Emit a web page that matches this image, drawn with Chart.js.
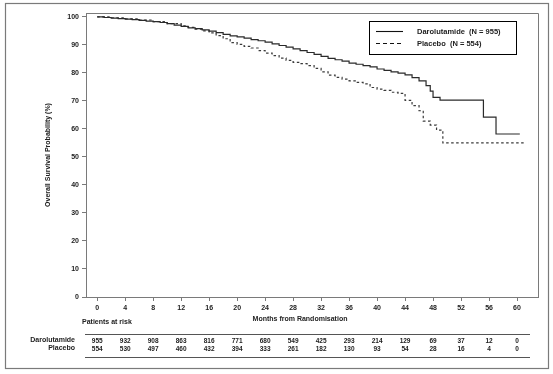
<!DOCTYPE html>
<html>
<head>
<meta charset="utf-8">
<script src="https://cdn.jsdelivr.net/npm/chart.js@4/dist/chart.umd.min.js"></script>
<style>
html,body{margin:0;padding:0;background:#fff;}
#wrap{position:relative;width:553px;height:374px;}
</style>
</head>
<body>
<div id="wrap"><canvas id="c" width="553" height="374"></canvas></div>
<script>
// ---- data ----
const xTicks = [0,4,8,12,16,20,24,28,32,36,40,44,48,52,56,60];
const yTicks = [0,10,20,30,40,50,60,70,80,90,100];
const seriesNames = ['Darolutamide  (N = 955)', 'Placebo  (N = 554)'];
const riskLabels = ['Darolutamide', 'Placebo'];
const daroRisk = [955,932,908,863,816,771,680,549,425,293,214,129,69,37,12,0];
const placRisk = [554,530,497,460,432,394,333,261,182,130,93,54,28,16,4,0];

const daroTime = [0,1,2,3,4,5,6,7,8,9,10,11,12,13,14,15,16,17,18,19,20,21,22,23,24,25,26,27,28,29,30,31,32,33,34,35,36,37,38,39,40,41,42,43,44,45,46,47,47.6,48,49,55.2,57,60.4];
const daroSurv = [100,99.8,99.6,99.4,99.2,99.0,98.8,98.5,98.3,98.0,97.6,97.1,96.6,96.1,95.8,95.4,94.9,94.4,93.8,93.2,92.9,92.4,91.9,91.5,91.0,90.4,89.8,89.2,88.6,88.0,87.3,86.6,85.9,85.2,84.7,84.2,83.5,83.1,82.6,82.2,81.4,80.9,80.4,79.9,79.3,78.3,77.2,75.5,73.5,71.3,70.3,64.2,58.2,58.2];

const placTime = [0,2,4,6,8,10,12,13,14,15,16,17,18,19,20,21,22,23,24,25,26,27,28,29,30,31,32,33,34,35,36,37,38,39,40,41,42,43,44,45,46,46.6,47.6,48.5,49.4,61];
const placSurv = [100,99.7,99.3,98.9,98.3,97.6,96.8,96.3,95.6,95.0,94.3,93.3,92.2,90.8,90.2,89.5,88.9,88.0,87.1,86.2,85.3,84.5,83.8,83.3,82.6,81.6,80.4,79.2,78.4,77.8,77.2,76.6,76.1,74.8,74.2,73.8,73.1,72.7,70.2,68.3,66.5,62.8,61.4,59.6,55.0,55.0];

const FONT = '"Liberation Sans", Arial, sans-serif';
const GRAY = '#7a7a7a';
const TXT = '#222';

const deco = {
  id: 'deco',
  afterDraw(chart) {
    const ctx = chart.ctx;
    const a = chart.chartArea;
    const xs = chart.scales.x;
    ctx.save();
    // plot box top/right
    ctx.strokeStyle = GRAY; ctx.lineWidth = 1;
    ctx.beginPath();
    ctx.moveTo(a.left, a.top + 0.5); ctx.lineTo(a.right + 0.5, a.top + 0.5); ctx.lineTo(a.right + 0.5, a.bottom);
    ctx.stroke();
    // outer frame
    ctx.lineWidth = 1.2;
    ctx.strokeRect(5.5, 3.5, 543, 365);

    // legend
    ctx.strokeStyle = '#000'; ctx.lineWidth = 1;
    ctx.strokeRect(369.5, 21.5, 147, 33);
    ctx.strokeStyle = '#111'; ctx.lineWidth = 1.1;
    ctx.beginPath(); ctx.moveTo(376, 31.5); ctx.lineTo(403, 31.5); ctx.stroke();
    ctx.setLineDash([4, 3]);
    ctx.beginPath(); ctx.moveTo(376, 43.5); ctx.lineTo(403, 43.5); ctx.stroke();
    ctx.setLineDash([]);
    ctx.fillStyle = TXT;
    ctx.font = 'bold 7.5px ' + FONT;
    ctx.textAlign = 'left'; ctx.textBaseline = 'middle';
    ctx.fillText(seriesNames[0], 417, 31.5);
    ctx.fillText(seriesNames[1], 417, 43.5);

    // y title
    ctx.save();
    ctx.translate(48, 155);
    ctx.rotate(-Math.PI / 2);
    ctx.textAlign = 'center';
    ctx.font = 'bold 7px ' + FONT;
    ctx.fillText('Overall Survival Probability (%)', 0, 0);
    ctx.restore();

    // x title & patients at risk
    ctx.font = 'bold 7px ' + FONT;
    ctx.textAlign = 'center';
    ctx.fillText('Months from Randomisation', 300, 319);
    ctx.textAlign = 'left';
    ctx.fillText('Patients at risk', 82, 322);

    // risk table
    ctx.strokeStyle = '#555'; ctx.lineWidth = 1;
    ctx.beginPath(); ctx.moveTo(85, 334.5); ctx.lineTo(530, 334.5); ctx.stroke();
    ctx.beginPath(); ctx.moveTo(85, 357.5); ctx.lineTo(530, 357.5); ctx.stroke();
    ctx.textAlign = 'right';
    ctx.fillText(riskLabels[0], 75, 340.5);
    ctx.fillText(riskLabels[1], 75, 348.5);
    ctx.textAlign = 'center';
    ctx.font = 'bold 6.5px ' + FONT;
    xTicks.forEach((t, i) => {
      const px = xs.getPixelForValue(t);
      ctx.fillText(String(daroRisk[i]), px, 341);
      ctx.fillText(String(placRisk[i]), px, 349.5);
    });
    ctx.restore();
  }
};

new Chart(document.getElementById('c'), {
  type: 'line',
  data: {
    datasets: [
      {
        label: seriesNames[0],
        data: daroTime.map((t, i) => ({x: t, y: daroSurv[i]})),
        borderColor: '#2a2a2a', borderWidth: 1.2, pointRadius: 0, stepped: true, fill: false
      },
      {
        label: seriesNames[1],
        data: placTime.map((t, i) => ({x: t, y: placSurv[i]})),
        borderColor: '#3a3a3a', borderWidth: 1.2, borderDash: [2.5, 2.5], pointRadius: 0, stepped: true, fill: false
      }
    ]
  },
  options: {
    responsive: false,
    animation: false,
    events: [],
    layout: { padding: { left: 0, top: 13, right: 15, bottom: 0 } },
    plugins: { legend: { display: false }, tooltip: { enabled: false }, title: { display: false } },
    scales: {
      x: {
        type: 'linear', min: -1.6, max: 63,
        afterBuildTicks: s => { s.ticks = xTicks.map(v => ({value: v})); },
        afterFit: s => { s.height = 77; },
        grid: { drawOnChartArea: false, drawTicks: true, tickLength: 4, color: GRAY },
        border: { display: true, color: GRAY, width: 1 },
        ticks: { font: { family: FONT, size: 7, weight: 'bold' }, color: TXT, padding: 3, maxRotation: 0, autoSkip: false }
      },
      y: {
        type: 'linear', min: 0, max: 101.4,
        afterBuildTicks: s => { s.ticks = yTicks.map(v => ({value: v})); },
        afterFit: s => { s.width = 86; },
        grid: { drawOnChartArea: false, drawTicks: true, tickLength: 4, color: GRAY },
        border: { display: true, color: GRAY, width: 1 },
        ticks: { font: { family: FONT, size: 7, weight: 'bold' }, color: TXT, padding: 3 }
      }
    }
  },
  plugins: [deco]
});
</script>
</body>
</html>
